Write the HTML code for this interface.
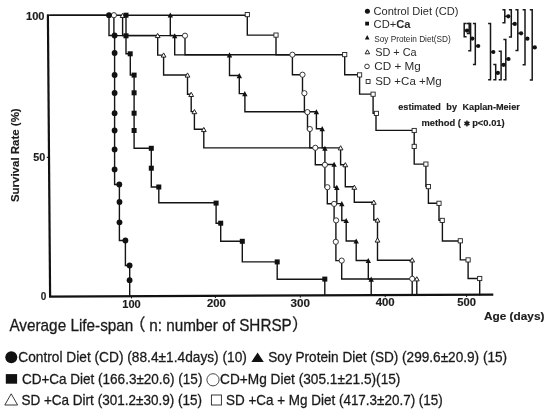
<!DOCTYPE html><html><head><meta charset="utf-8"><title>Survival curves</title>
<style>html,body{margin:0;padding:0;background:#fff;}svg{display:block;}.b{font-family:"Liberation Sans",Arial,sans-serif;font-weight:bold;fill:#1c1c1c;stroke:#1c1c1c;stroke-width:0.15px;}.r{font-family:"Liberation Sans","Noto Sans CJK JP",sans-serif;fill:#1a1a1a;stroke:#1a1a1a;stroke-width:0.28px;}.l{font-family:"Liberation Sans",sans-serif;fill:#2a2a2a;}</style></head><body>
<svg width="550" height="414" viewBox="0 0 550 414">
<rect width="550" height="414" fill="#fff"/>
<path d="M47.9,14.6 L50.1,296.6" stroke="#111" stroke-width="2.2" fill="none"/>
<path d="M49,296.6 L493.3,294.6" stroke="#111" stroke-width="2.2" fill="none"/>
<path d="M46.8,157.4 H49" stroke="#111" stroke-width="1.2"/>
<path d="M131.5,296.2 V298.4" stroke="#111" stroke-width="1"/>
<path d="M215.4,295.8 V298.0" stroke="#111" stroke-width="1"/>
<path d="M300.3,295.4 V297.59999999999997" stroke="#111" stroke-width="1"/>
<path d="M385.2,295 V297.2" stroke="#111" stroke-width="1"/>
<path d="M466.6,294.8 V297.0" stroke="#111" stroke-width="1"/>
<g fill="none" stroke="#141414" stroke-width="1.4" stroke-linejoin="miter">
<path d="M50,15.2 H109 V35.5 H114.6 V184.5 H119.4 V240.5 H125.4 V265.5 H129.7 V296"/>
<path d="M126,15.2 V35.8 V53.8 H130.3 V75 H134.1 V148.3 H151.3 V187 H158.8 V202.8 H216.1 V223.2 H220.7 V241.2 H242.3 V261.9 H277.2 V279.2 H324.8 V296"/>
<path d="M170.3,15 V35.5 H174.7 V54.9 H229.5 V75.5 H239.3 V93.6 H244.9 V111.8 H316.4 V128.8 H322.2 V147.8 H324.9 V164.5 H334.1 V187.2 H336.8 V203.6 H341.8 V220.5 H346.2 V241 H356.2 V260.5 H368.3 V279 H371.2 V296"/>
<path d="M122.6,15.4 V35.5 H157.7 V55.1 H163.6 V75 H187.5 V94.3 H191.2 V111.6 H194.4 V129.3 H203.8 V147.9 H340.6 V164.7 H345.3 V186.8 H354.3 V202.2 H373.8 V220 H377.5 V260.2 H412.2 V278.8 H416.8 V296"/>
<path d="M113.9,15.2 V35.6 H185 V54.8 H292.4 V74.7 H302.5 V93.3 H304.4 V112 H307.5 V129 H309.8 V147.8 H315.3 V164.8 H324.9 V187.2 H327.3 V203.8 H334.1 V220.4 H335.9 V260.6 H341.7 V279 H412.2 V296"/>
<path d="M47,15.2 H247.3 V35.1 H276 V54.7 H344.7 V74.8 H359.6 V94.1 H373.1 V113.2 H376 V130.4 H414.2 V164.1 H425.9 V186.6 H428.4 V203.3 H439 V220.2 H442.4 V241 H460.3 V259.9 H468.1 V278.5 H479.7 V295.5"/>
</g>
<path d="M120.20,17.49 L125.00,17.49 L122.60,13.31Z" fill="#fff" stroke="#222" stroke-width="1"/>
<path d="M155.30,37.59 L160.10,37.59 L157.70,33.41Z" fill="#fff" stroke="#222" stroke-width="1"/>
<path d="M161.20,57.09 L166.00,57.09 L163.60,52.91Z" fill="#fff" stroke="#222" stroke-width="1"/>
<path d="M185.10,77.09 L189.90,77.09 L187.50,72.91Z" fill="#fff" stroke="#222" stroke-width="1"/>
<path d="M188.80,96.49 L193.60,96.49 L191.20,92.31Z" fill="#fff" stroke="#222" stroke-width="1"/>
<path d="M192.00,113.69 L196.80,113.69 L194.40,109.51Z" fill="#fff" stroke="#222" stroke-width="1"/>
<path d="M201.40,131.59 L206.20,131.59 L203.80,127.41Z" fill="#fff" stroke="#222" stroke-width="1"/>
<path d="M338.20,149.89 L343.00,149.89 L340.60,145.71Z" fill="#fff" stroke="#222" stroke-width="1"/>
<path d="M342.90,166.79 L347.70,166.79 L345.30,162.61Z" fill="#fff" stroke="#222" stroke-width="1"/>
<path d="M351.90,189.29 L356.70,189.29 L354.30,185.11Z" fill="#fff" stroke="#222" stroke-width="1"/>
<path d="M371.40,204.29 L376.20,204.29 L373.80,200.11Z" fill="#fff" stroke="#222" stroke-width="1"/>
<path d="M375.10,222.09 L379.90,222.09 L377.50,217.91Z" fill="#fff" stroke="#222" stroke-width="1"/>
<path d="M375.10,242.09 L379.90,242.09 L377.50,237.91Z" fill="#fff" stroke="#222" stroke-width="1"/>
<path d="M409.80,261.99 L414.60,261.99 L412.20,257.81Z" fill="#fff" stroke="#222" stroke-width="1"/>
<path d="M414.40,280.89 L419.20,280.89 L416.80,276.71Z" fill="#fff" stroke="#222" stroke-width="1"/>
<circle cx="113.9" cy="15.2" r="2.6" fill="#fff" stroke="#222" stroke-width="0.9"/>
<circle cx="185" cy="35.7" r="2.6" fill="#fff" stroke="#222" stroke-width="0.9"/>
<circle cx="292.4" cy="54.7" r="2.6" fill="#fff" stroke="#222" stroke-width="0.9"/>
<circle cx="302.5" cy="74.7" r="2.6" fill="#fff" stroke="#222" stroke-width="0.9"/>
<circle cx="304.4" cy="93.2" r="2.6" fill="#fff" stroke="#222" stroke-width="0.9"/>
<circle cx="307.4" cy="112.1" r="2.6" fill="#fff" stroke="#222" stroke-width="0.9"/>
<circle cx="309.8" cy="129" r="2.6" fill="#fff" stroke="#222" stroke-width="0.9"/>
<circle cx="315.3" cy="147.8" r="2.6" fill="#fff" stroke="#222" stroke-width="0.9"/>
<circle cx="324.9" cy="164.8" r="2.6" fill="#fff" stroke="#222" stroke-width="0.9"/>
<circle cx="327.4" cy="187.2" r="2.6" fill="#fff" stroke="#222" stroke-width="0.9"/>
<circle cx="334.1" cy="203.9" r="2.6" fill="#fff" stroke="#222" stroke-width="0.9"/>
<circle cx="336.1" cy="220.4" r="2.6" fill="#fff" stroke="#222" stroke-width="0.9"/>
<circle cx="335.8" cy="241.8" r="2.6" fill="#fff" stroke="#222" stroke-width="0.9"/>
<circle cx="341.7" cy="260.6" r="2.6" fill="#fff" stroke="#222" stroke-width="0.9"/>
<circle cx="412.2" cy="278.8" r="2.6" fill="#fff" stroke="#222" stroke-width="0.9"/>
<rect x="245.20" y="12.50" width="4.2" height="4.2" fill="#fff" stroke="#222" stroke-width="0.9"/>
<rect x="273.90" y="33.00" width="4.2" height="4.2" fill="#fff" stroke="#222" stroke-width="0.9"/>
<rect x="342.60" y="52.50" width="4.2" height="4.2" fill="#fff" stroke="#222" stroke-width="0.9"/>
<rect x="357.50" y="72.80" width="4.2" height="4.2" fill="#fff" stroke="#222" stroke-width="0.9"/>
<rect x="371.00" y="92.10" width="4.2" height="4.2" fill="#fff" stroke="#222" stroke-width="0.9"/>
<rect x="374.30" y="111.30" width="4.2" height="4.2" fill="#fff" stroke="#222" stroke-width="0.9"/>
<rect x="412.10" y="128.40" width="4.2" height="4.2" fill="#fff" stroke="#222" stroke-width="0.9"/>
<rect x="412.10" y="144.30" width="4.2" height="4.2" fill="#fff" stroke="#222" stroke-width="0.9"/>
<rect x="423.80" y="162.00" width="4.2" height="4.2" fill="#fff" stroke="#222" stroke-width="0.9"/>
<rect x="426.30" y="184.50" width="4.2" height="4.2" fill="#fff" stroke="#222" stroke-width="0.9"/>
<rect x="436.90" y="201.20" width="4.2" height="4.2" fill="#fff" stroke="#222" stroke-width="0.9"/>
<rect x="440.10" y="218.30" width="4.2" height="4.2" fill="#fff" stroke="#222" stroke-width="0.9"/>
<rect x="458.20" y="238.70" width="4.2" height="4.2" fill="#fff" stroke="#222" stroke-width="0.9"/>
<rect x="466.00" y="257.80" width="4.2" height="4.2" fill="#fff" stroke="#222" stroke-width="0.9"/>
<rect x="477.60" y="276.40" width="4.2" height="4.2" fill="#fff" stroke="#222" stroke-width="0.9"/>
<path d="M167.60,17.57 L173.00,17.57 L170.30,12.44Z" fill="#111"/>
<path d="M172.00,38.27 L177.40,38.27 L174.70,33.14Z" fill="#111"/>
<path d="M226.80,57.46 L232.20,57.46 L229.50,52.34Z" fill="#111"/>
<path d="M236.60,78.16 L242.00,78.16 L239.30,73.03Z" fill="#111"/>
<path d="M242.10,96.16 L247.50,96.16 L244.80,91.03Z" fill="#111"/>
<path d="M313.70,114.36 L319.10,114.36 L316.40,109.23Z" fill="#111"/>
<path d="M319.50,131.16 L324.90,131.16 L322.20,126.03Z" fill="#111"/>
<path d="M322.20,150.76 L327.60,150.76 L324.90,145.63Z" fill="#111"/>
<path d="M331.40,166.87 L336.80,166.87 L334.10,161.74Z" fill="#111"/>
<path d="M334.10,189.97 L339.50,189.97 L336.80,184.84Z" fill="#111"/>
<path d="M339.10,206.16 L344.50,206.16 L341.80,201.03Z" fill="#111"/>
<path d="M343.50,223.06 L348.90,223.06 L346.20,217.94Z" fill="#111"/>
<path d="M353.50,243.56 L358.90,243.56 L356.20,238.44Z" fill="#111"/>
<path d="M365.60,263.06 L371.00,263.06 L368.30,257.94Z" fill="#111"/>
<path d="M368.50,281.67 L373.90,281.67 L371.20,276.54Z" fill="#111"/>
<rect x="123.50" y="12.70" width="5.0" height="5.0" fill="#111"/>
<rect x="123.50" y="33.30" width="5.0" height="5.0" fill="#111"/>
<rect x="127.70" y="51.30" width="5.0" height="5.0" fill="#111"/>
<rect x="131.60" y="72.60" width="5.0" height="5.0" fill="#111"/>
<rect x="131.60" y="90.30" width="5.0" height="5.0" fill="#111"/>
<rect x="131.60" y="110.70" width="5.0" height="5.0" fill="#111"/>
<rect x="131.60" y="128.00" width="5.0" height="5.0" fill="#111"/>
<rect x="148.80" y="145.80" width="5.0" height="5.0" fill="#111"/>
<rect x="148.80" y="165.70" width="5.0" height="5.0" fill="#111"/>
<rect x="156.30" y="184.50" width="5.0" height="5.0" fill="#111"/>
<rect x="213.60" y="200.60" width="5.0" height="5.0" fill="#111"/>
<rect x="218.20" y="220.70" width="5.0" height="5.0" fill="#111"/>
<rect x="239.80" y="238.80" width="5.0" height="5.0" fill="#111"/>
<rect x="274.70" y="259.40" width="5.0" height="5.0" fill="#111"/>
<rect x="322.30" y="276.60" width="5.0" height="5.0" fill="#111"/>
<circle cx="109" cy="15.2" r="2.9" fill="#111"/>
<circle cx="114.6" cy="35.5" r="2.9" fill="#111"/>
<circle cx="114.6" cy="53" r="2.9" fill="#111"/>
<circle cx="114.6" cy="75" r="2.9" fill="#111"/>
<circle cx="114.6" cy="93" r="2.9" fill="#111"/>
<circle cx="114.6" cy="113.2" r="2.9" fill="#111"/>
<circle cx="114.6" cy="130.5" r="2.9" fill="#111"/>
<circle cx="114.6" cy="149.4" r="2.9" fill="#111"/>
<circle cx="114.6" cy="169.4" r="2.9" fill="#111"/>
<circle cx="119.3" cy="184.5" r="2.9" fill="#111"/>
<circle cx="119.5" cy="202" r="2.9" fill="#111"/>
<circle cx="119.5" cy="222.3" r="2.9" fill="#111"/>
<circle cx="125.4" cy="240.5" r="2.9" fill="#111"/>
<circle cx="129.6" cy="265.5" r="2.9" fill="#111"/>
<circle cx="129.6" cy="280.2" r="2.9" fill="#111"/>
<text class="b" x="44.5" y="19.5" font-size="10" text-anchor="end" textLength="18.5" lengthAdjust="spacingAndGlyphs">100</text>
<text class="b" x="45.3" y="160.9" font-size="10" text-anchor="end" textLength="12" lengthAdjust="spacingAndGlyphs">50</text>
<text class="b" x="46.2" y="300.2" font-size="10" text-anchor="end">0</text>
<text class="b" transform="translate(18.7,202.1) rotate(-90)" x="0" y="0" font-size="10.8" textLength="93.8" lengthAdjust="spacingAndGlyphs">Survival Rate (%)</text>
<text class="b" x="122.3" y="307.7" font-size="10" textLength="18.4" lengthAdjust="spacingAndGlyphs">100</text>
<text class="b" x="207" y="307.2" font-size="10" textLength="18.8" lengthAdjust="spacingAndGlyphs">200</text>
<text class="b" x="290.6" y="307" font-size="10" textLength="19.4" lengthAdjust="spacingAndGlyphs">300</text>
<text class="b" x="375.7" y="306" font-size="10" textLength="19.0" lengthAdjust="spacingAndGlyphs">400</text>
<text class="b" x="457.3" y="305.5" font-size="10" textLength="18.7" lengthAdjust="spacingAndGlyphs">500</text>
<text class="b" x="484" y="319.7" font-size="10.2" textLength="60.4" lengthAdjust="spacingAndGlyphs">Age (days)</text>
<circle cx="367.4" cy="11.2" r="2.5" fill="#111"/>
<text class="l" x="373.5" y="15" font-size="10.6" textLength="85" lengthAdjust="spacingAndGlyphs">Control Diet (CD)</text>
<rect x="365.20" y="21.70" width="3.8" height="3.8" fill="#111"/>
<text class="l" x="373.6" y="27.9" font-size="10.8" textLength="37" lengthAdjust="spacingAndGlyphs">CD+<tspan font-weight="bold">Ca</tspan></text>
<path d="M364.90,39.48 L369.50,39.48 L367.20,35.11Z" fill="#111"/>
<text class="l" x="374.2" y="41.8" font-size="9.0" textLength="76.6" lengthAdjust="spacingAndGlyphs">Soy Protein Diet(SD)</text>
<path d="M365.10,53.80 L369.70,53.80 L367.40,49.80Z" fill="#fff" stroke="#222" stroke-width="1"/>
<text class="l" x="375.2" y="55.5" font-size="10.8" textLength="41.5" lengthAdjust="spacingAndGlyphs">SD + Ca</text>
<circle cx="367" cy="66.4" r="2.3" fill="#fff" stroke="#222" stroke-width="0.9"/>
<text class="l" x="374.3" y="70" font-size="10.8" textLength="46.5" lengthAdjust="spacingAndGlyphs">CD + Mg</text>
<rect x="366.15" y="79.55" width="3.9" height="3.9" fill="#fff" stroke="#222" stroke-width="0.9"/>
<text class="l" x="375.2" y="85.1" font-size="10.8" textLength="66.5" lengthAdjust="spacingAndGlyphs">SD +Ca +Mg</text>
<g fill="none" stroke="#181818" stroke-width="1.5">
<path d="M466.8,23.4 H469.2 V33.5 H466.8"/>
<path d="M468.2,23.5 H470.6 V50.8 H468.2"/>
<path d="M472.9,23.5 H475.3 V64.6 H472.9"/>
<path d="M488.1,23.5 H490.5 V79.8 H488.1"/>
<path d="M493.3,64.4 H495.7 V79.8 H493.3"/>
<path d="M498.7,51.3 H501.1 V79.8 H498.7"/>
<path d="M503.4,39.5 H505.8 V79.8 H503.4"/>
<path d="M502.4,9.8 H504.8 V22.8 H502.4"/>
<path d="M508.9,9.8 H511.3 V37 H508.9"/>
<path d="M515.4,9.8 H517.8 V50.4 H515.4"/>
<path d="M522.6,9.8 H525 V64.8 H522.6"/>
<path d="M529.8,9.8 H532.2 V80 H529.8"/>
<path d="M466.6,23.4 H464.2 V36.8 H466.6"/>
</g>
<path d="M464.2,30.6 H467.0" stroke="#181818" stroke-width="1.3"/>
<circle cx="467.0" cy="30.6" r="2.1" fill="#111"/>
<path d="M470.6,38.6 H472.3" stroke="#181818" stroke-width="1.3"/>
<circle cx="472.3" cy="38.6" r="2.1" fill="#111"/>
<path d="M475.3,46 H478.2" stroke="#181818" stroke-width="1.3"/>
<circle cx="478.2" cy="46" r="2.1" fill="#111"/>
<path d="M490.5,52.0 H493.3" stroke="#181818" stroke-width="1.3"/>
<circle cx="493.3" cy="52.0" r="2.1" fill="#111"/>
<path d="M495.7,72.9 H497.9" stroke="#181818" stroke-width="1.3"/>
<circle cx="497.9" cy="72.9" r="2.1" fill="#111"/>
<path d="M501.1,64.8 H503.6" stroke="#181818" stroke-width="1.3"/>
<circle cx="503.6" cy="64.8" r="2.1" fill="#111"/>
<path d="M505.8,59.0 H508.5" stroke="#181818" stroke-width="1.3"/>
<circle cx="508.5" cy="59.0" r="2.1" fill="#111"/>
<path d="M504.8,16.3 H508.3" stroke="#181818" stroke-width="1.3"/>
<circle cx="508.3" cy="16.3" r="2.1" fill="#111"/>
<path d="M511.3,23.9 H514.8" stroke="#181818" stroke-width="1.3"/>
<circle cx="514.8" cy="23.9" r="2.1" fill="#111"/>
<path d="M517.8,33.3 H521.1" stroke="#181818" stroke-width="1.3"/>
<circle cx="521.1" cy="33.3" r="2.1" fill="#111"/>
<path d="M525,38.7 H527.4" stroke="#181818" stroke-width="1.3"/>
<circle cx="527.4" cy="38.7" r="2.1" fill="#111"/>
<path d="M532.2,47.4 H534.8" stroke="#181818" stroke-width="1.3"/>
<circle cx="534.8" cy="47.4" r="2.1" fill="#111"/>
<text class="b" x="398.3" y="110.1" font-size="9.4" textLength="121.5" lengthAdjust="spacingAndGlyphs" word-spacing="3">estimated by Kaplan-Meier</text>
<text class="b" x="421.4" y="126" font-size="9.4" textLength="83.3" lengthAdjust="spacingAndGlyphs">method ( <tspan font-size="7">&#10033;</tspan> p&lt;0.01)</text>
<text class="r" x="9.4" y="330.9" font-size="16.6" textLength="124" lengthAdjust="spacingAndGlyphs">Average Life-span</text>
<text class="r" x="129" y="330.9" font-size="16.6">（</text>
<text class="r" x="149.2" y="330.9" font-size="16.6" textLength="142.6" lengthAdjust="spacingAndGlyphs">n: number of SHRSP</text>
<text class="r" x="292" y="330.9" font-size="16.6">）</text>
<circle cx="11.3" cy="357.3" r="6" fill="#111"/>
<text class="r" x="18.3" y="362" font-size="14.3" textLength="228.6" lengthAdjust="spacingAndGlyphs">Control Diet (CD) (88.4±1.4days) (10)</text>
<path d="M251.4,361.9 L263.8,361.9 L257.6,352.4Z" fill="#111"/>
<text class="r" x="268.3" y="362" font-size="14.3" textLength="238.8" lengthAdjust="spacingAndGlyphs">Soy Protein Diet (SD) (299.6±20.9) (15)</text>
<rect x="5.8" y="374.1" width="11.3" height="9.6" fill="#111"/>
<text class="r" x="21.9" y="383.8" font-size="14.3" textLength="180.5" lengthAdjust="spacingAndGlyphs">CD+Ca Diet (166.3±20.6) (15)</text>
<circle cx="213" cy="379.8" r="6.1" fill="none" stroke="#333" stroke-width="0.9"/>
<text class="r" x="220.1" y="383.8" font-size="14.3" textLength="180.3" lengthAdjust="spacingAndGlyphs">CD+Mg Diet (305.1±21.5)(15)</text>
<path d="M4.8,405 L17.6,405 L11.2,393.8Z" fill="none" stroke="#222" stroke-width="0.9"/>
<text class="r" x="21.4" y="405.4" font-size="14.3" textLength="180.6" lengthAdjust="spacingAndGlyphs">SD +Ca Dirt (301.2±30.9) (15)</text>
<rect x="211.4" y="395" width="10" height="10" fill="none" stroke="#222" stroke-width="0.9"/>
<text class="r" x="226" y="405.4" font-size="14.3" textLength="216.8" lengthAdjust="spacingAndGlyphs">SD +Ca + Mg Diet (417.3±20.7) (15)</text>
</svg></body></html>
